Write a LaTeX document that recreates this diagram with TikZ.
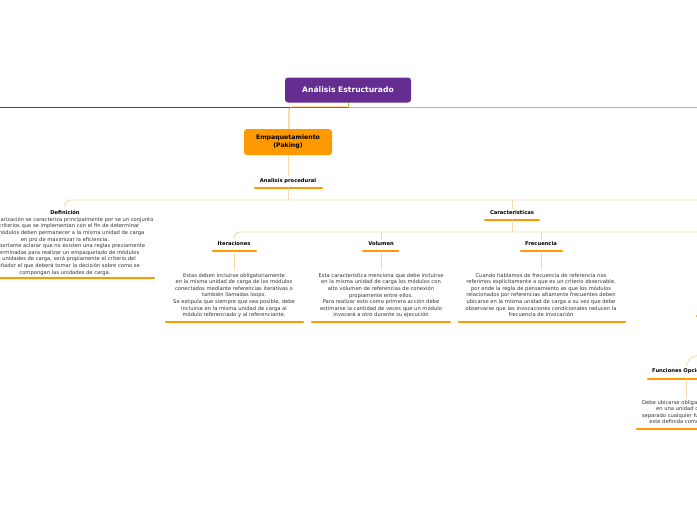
\documentclass[tikz,border=0pt]{standalone}
\usepackage{fontspec}
\setmainfont{DejaVu Sans}
\definecolor{purp}{HTML}{652D90}
\definecolor{org}{HTML}{FF9900}
\definecolor{lorg}{HTML}{FCD9A8}
\definecolor{grn}{HTML}{8CE02C}
\definecolor{txt}{HTML}{333333}
\tikzset{
 lbl/.style={font=\fontsize{5.2}{6}\selectfont\bfseries, text=black, inner sep=0pt},
 body/.style={font=\fontsize{5.2}{6.6}\selectfont, text=txt, align=center, inner sep=0pt},
 uline/.style={org, line width=2.2pt, line cap=round},
 conn/.style={lorg, line width=0.9pt, rounded corners=6pt}
}
\begin{document}
\begin{tikzpicture}[x=1pt,y=-1pt]
\useasboundingbox (0,0) rectangle (697,520);
\clip (0,0) rectangle (697,520);
% main lines
\draw[purp, line width=0.8pt] (0,107) -- (348,107);
\draw[grn, line width=0.8pt] (348,107) -- (697,107);
\draw[grn, line width=0.8pt] (348,100) -- (348,107);
\draw[org, line width=0.8pt, rounded corners=3pt] (348,107) -- (289,107) -- (289,130);
\node[fill=purp, rounded corners=3pt, minimum width=126pt, minimum height=25pt, text=white, font=\fontsize{7.6}{8}\selectfont\bfseries] (root) at (348,90) {Análisis Estructurado};
\node[fill=org, rounded corners=3pt, minimum width=88pt, minimum height=26pt, align=center, font=\fontsize{6.2}{8}\selectfont\bfseries] (emp) at (288,142) {Empaquetamiento\\(Paking)};
% analisis procedural
\node[lbl] (ap) at (288,181) {Analisis procedural};
\draw[conn] (emp.south) -- (288,176);
\draw[uline] (255,188) -- (322,188);
\coordinate (apb) at (288,188);
\draw[conn] (apb) -- (288,200);
\draw[conn] (65,209) -- (65,200) -- (697,200);
\draw[conn] (512,200) -- (512,209);
% Definicion
\node[lbl] (def) at (65,212) {Definición};
\node[body, anchor=north] (defb) at (65,217) {La modularización se caracteriza principalmente por se un conjunto\\de criterios que se implementan con el fin de determinar\\que módulos deben permanecer a la misma unidad de carga\\en pro de maximizar la eficiencia.\\Es importante aclarar que no existen una reglas previamente\\determinadas para realizar un empaquetado de módulos\\en unidades de carga, será propiamente el criterio del\\diseñador el que deberá tomar la decisión sobre como se\\compongan las unidades de carga.};
\draw[uline] (0,278) -- (154,278);
% Caracteristicas
\node[lbl] (car) at (512,213) {Caracteristicas};
\draw[uline] (485,220) -- (539,220);
\draw[conn] (512,220) -- (512,232);
\draw[conn] (234,240) -- (234,232) -- (697,232);
\draw[conn] (381,240) -- (381,232);
\draw[conn] (541,240) -- (541,232);
\node[lbl] (it) at (234,244) {Iteraciones};
\node[lbl] (vo) at (381,244) {Volumen};
\node[lbl] (fr) at (541,244) {Frecuencia};
\draw[uline] (213,251) -- (256,251);
\draw[uline] (363,251) -- (398,251);
\draw[uline] (521,251) -- (562,251);
\draw[conn] (234,251) -- (234,270);
\draw[conn] (381,251) -- (381,270);
\draw[conn] (541,251) -- (541,270);
\node[body, anchor=north] (itb) at (234,273) {Estas deben incluirse obligatoriamente\\en la misma unidad de carga de los módulos\\conectados mediante referencias iterativas o\\también llamadas loops.\\Se estipula que siempre que sea posible, debe\\incluirse en la misma unidad de carga al\\módulo referenciado y al referenciante.};
\draw[uline] (166,322) -- (303,322);
\node[body, anchor=north] (vob) at (381,273) {Esta característica menciona que debe incluirse\\en la misma unidad de carga los módulos con\\alto volumen de referencias de conexión\\propiamente entre ellos.\\Para realizar esto como primera acción debe\\estimarse la cantidad de veces que un módulo\\invocará a otro durante su ejecución};
\draw[uline] (312,322) -- (450,322);
\node[body, anchor=north] (frb) at (541,273) {Cuando hablamos de frecuencia de referencia nos\\referimos explícitamente a que es un criterio observable,\\por ende la regla de pensamiento es que los módulos\\relacionados por referencias altamente frecuentes deben\\ubicarse en la misma unidad de carga a su vez que debe\\observarse que las invocaciones condicionales reducen la\\frecuencia de invocación};
\draw[uline] (459,322) -- (625,322);
% right partial
\draw[uline] (697,316) -- (699,316);
\draw[conn] (700,355) -- (690,357) -- (686,366);
\node[lbl, anchor=west] (fo) at (652,371) {Funciones Opcionales};
\draw[uline] (648,379) -- (700,379);
\draw[conn] (686,379) -- (686,398);
\node[body, anchor=north west] (fob) at (640,400) {\hspace*{2pt}Debe ubicarse obligatoriamente\\\hspace*{8pt}en una unidad de carga\\separado cualquier función que\\\hspace*{6pt}este definida como opcional};
\draw[uline] (637,429) -- (700,429);
\end{tikzpicture}
\end{document}
